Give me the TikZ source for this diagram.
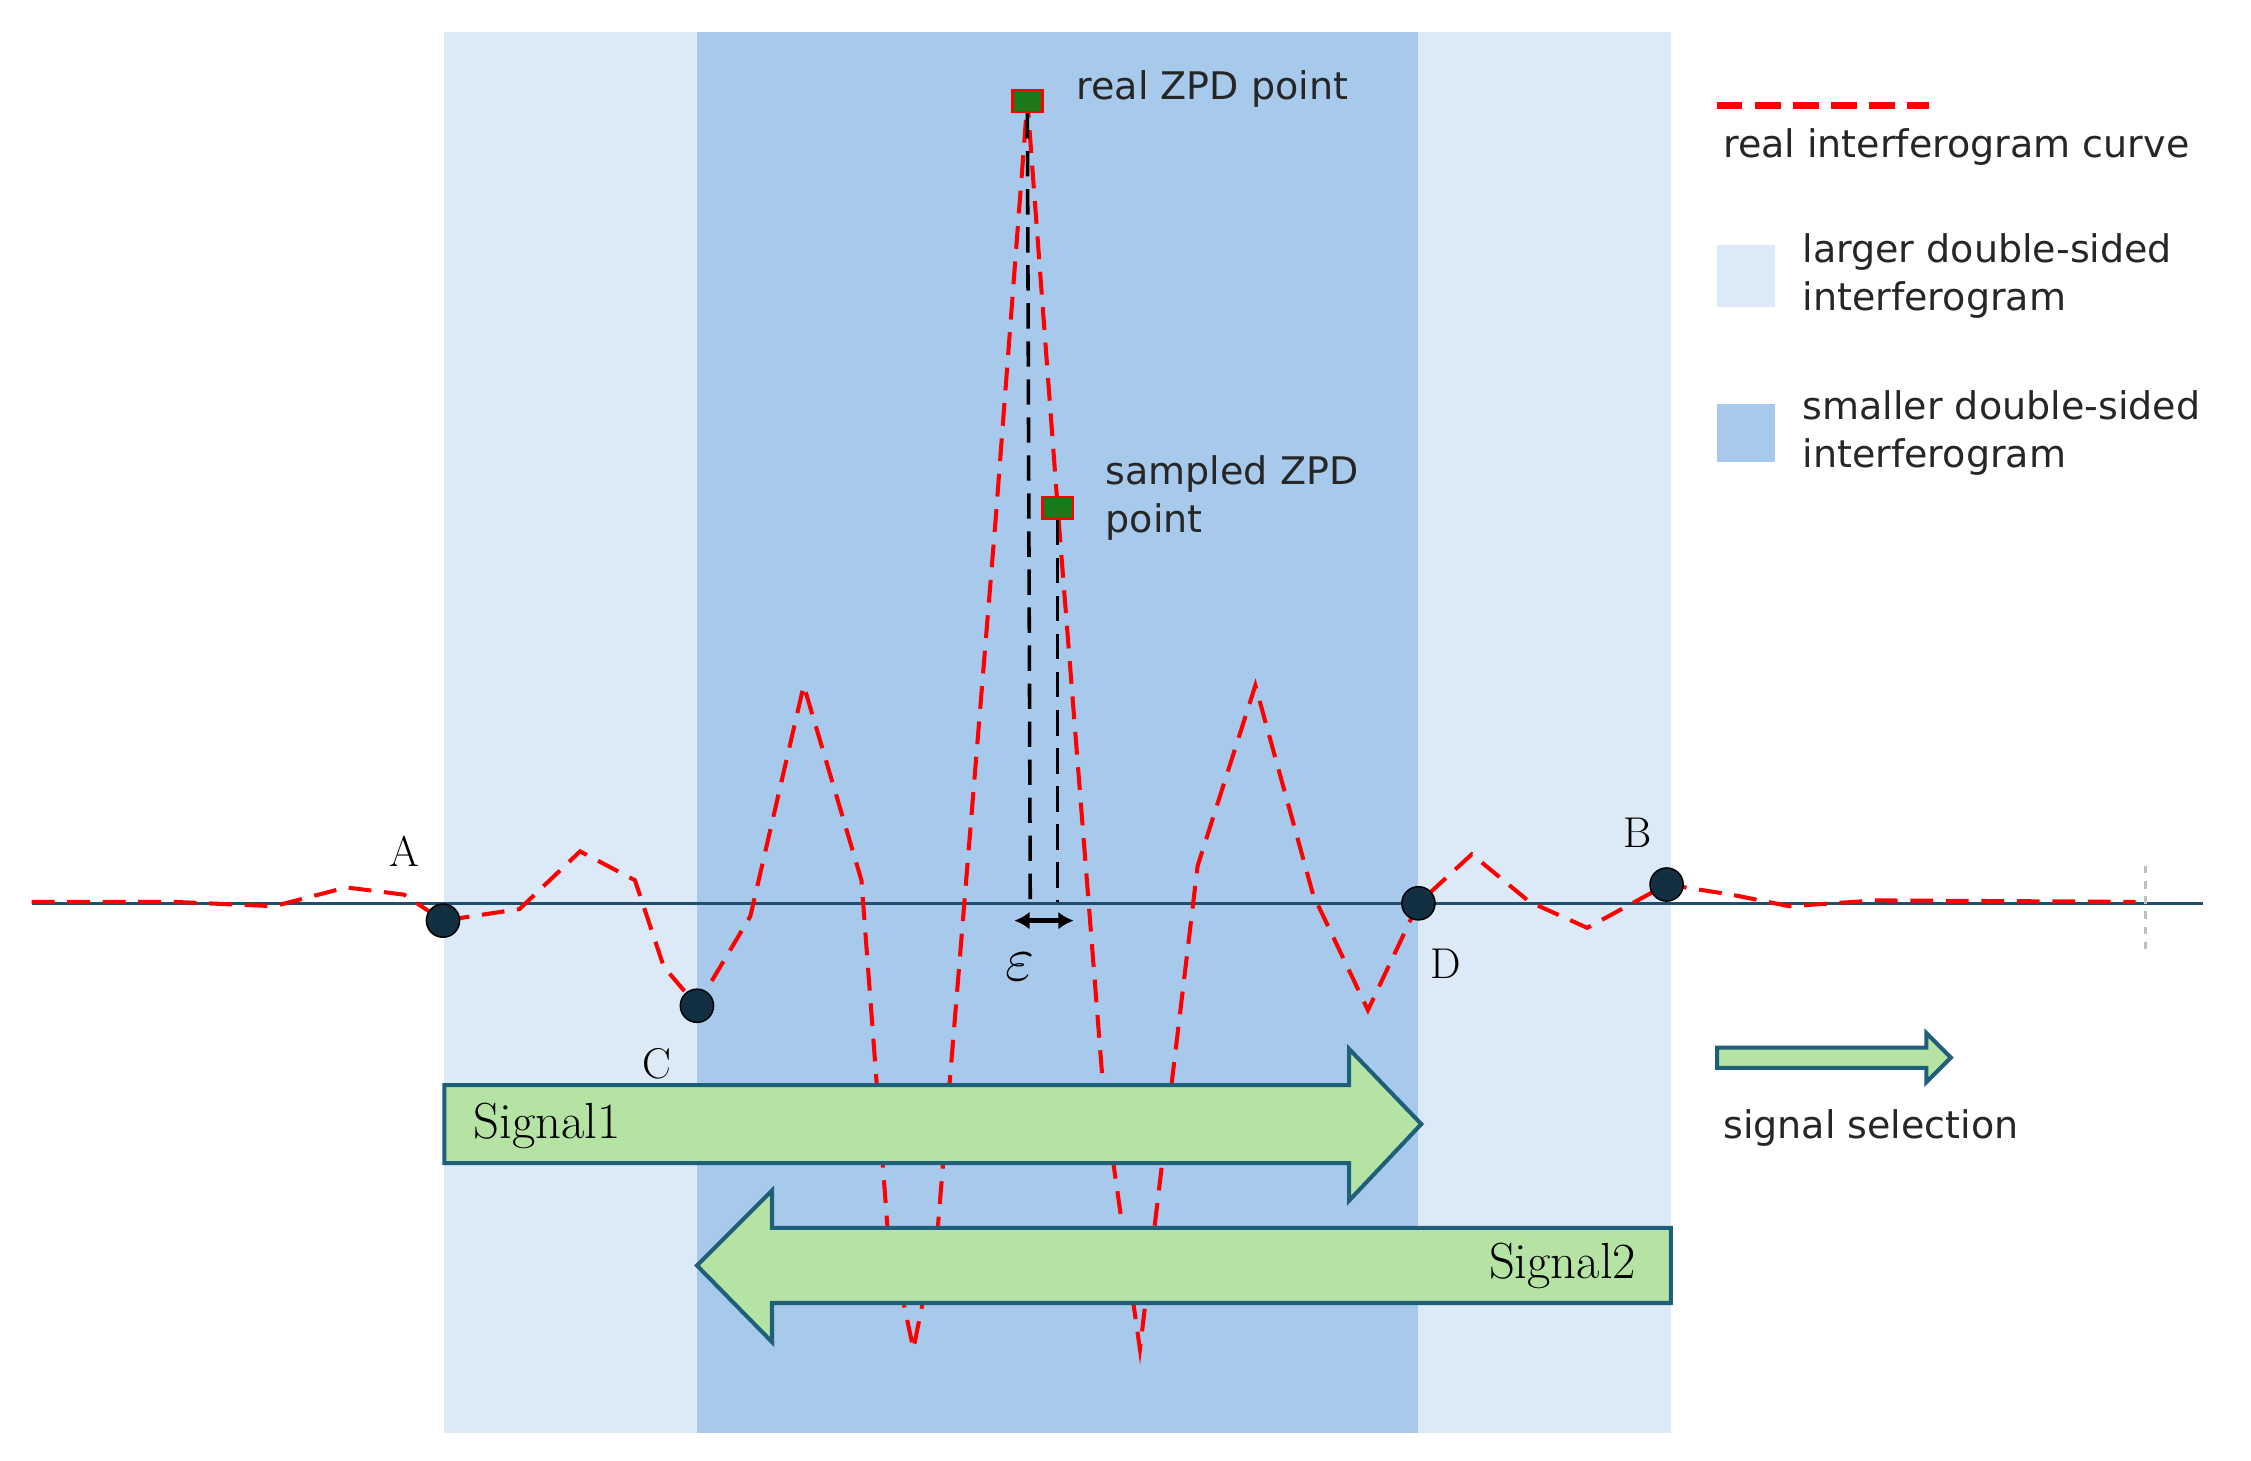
\documentclass[tikz,border=0pt]{standalone}
\usepackage{fontspec}
\setmainfont{Latin Modern Roman}
\newfontfamily\sansf{DejaVu Sans}
\usetikzlibrary{shapes.arrows,arrows.meta}
\definecolor{lightb}{HTML}{DCE9F6}
\definecolor{darkb}{HTML}{A7C9EB}
\definecolor{axisc}{HTML}{1F4E6E}
\definecolor{arrfill}{HTML}{B5E3A3}
\definecolor{arrline}{HTML}{1F5F7A}
\definecolor{zpd}{HTML}{1A7A1A}
\begin{document}
\begin{tikzpicture}[x=0.02cm,y=-0.02cm,
  sans/.style={font=\sansf\fontsize{15}{19}\selectfont,text=black!85},
  ptlabel/.style={font=\fontsize{17}{20}\selectfont},
  dot/.style={circle,fill=axisc!60!black,draw=black,line width=0.6pt,minimum size=0.46cm,inner sep=0},
  zpdbox/.style={rectangle,fill=zpd,draw=red,line width=1pt,minimum width=0.42cm,minimum height=0.3cm,inner sep=0},
  curve/.style={red,dashed,line width=1.6pt,dash pattern=on 9pt off 5pt},
  vdash/.style={black,line width=1.4pt,dash pattern=on 10pt off 5pt},
  sig/.style={fill=arrfill,draw=arrline,line width=1.6pt,line join=miter}]
\useasboundingbox (0,0) rectangle (1560,1012);
\fill[white] (0,0) rectangle (1560,1012);
\fill[lightb] (308,22) rectangle (1158,993);
\fill[darkb] (483,22) rectangle (983,993);
\draw[axisc,line width=1.4pt] (22,626) -- (1527,626);
\draw[gray!50,dashed,line width=1pt] (1487,600) -- (1487,660);
\draw[curve] (22,625) -- (120,625) -- (190,628) -- (240,615) -- (280,620) -- (307,638) -- (360,630) -- (402,590) -- (440,610) -- (460,670) -- (483,697) -- (520,635) -- (557,475) -- (597,610) -- (615,850) -- (633,935) -- (650,850) -- (690,360) -- (712,70) -- (733,352) -- (765,760) -- (790,935) -- (830,600) -- (870,475) -- (910,620) -- (948,700) -- (983,626) -- (1020,592) -- (1060,625) -- (1100,643) -- (1155,613) -- (1200,620) -- (1240,628) -- (1300,624) -- (1480,625);
% signal arrows
\draw[sig] (308,752) -- (935,752) -- (935,727) -- (985,779) -- (935,832) -- (935,806) -- (308,806) -- cycle;
\draw[sig] (1158,851) -- (535,851) -- (535,825) -- (483,877) -- (535,930) -- (535,903) -- (1158,903) -- cycle;
\node[font=\fontsize{20}{24}\selectfont,anchor=west] (s1) at (322,780) {Signal1};
\node[font=\fontsize{20}{24}\selectfont,anchor=east] (s2) at (1140,877) {Signal2};
% zpd
\node[zpdbox] (rz) at (712,70) {};
\node[zpdbox] (sz) at (733,352) {};
\coordinate (rzb) at (714,625);
\coordinate (szb) at (733,625);
\draw[vdash] (rz.south) -- (rzb);
\draw[vdash] (sz.south) -- (szb);
\coordinate (e1) at (703,638); \coordinate (e2) at (744,638);
\draw[{Latex[length=6pt,width=7pt]}-{Latex[length=6pt,width=7pt]},line width=2pt] (e1) -- (e2);
\node[font=\fontsize{26}{30}\selectfont] (eps) at (707,670) {$\varepsilon$};
\node[sans,anchor=west] (rzt) at (740,62) {real ZPD point};
\node[sans,anchor=west,align=left] (szt) at (760,345) {sampled ZPD\\point};
% dots
\node[dot] (A) at (307,638) {};
\node[dot] (C) at (483,697) {};
\node[dot] (D) at (983,626) {};
\node[dot] (B) at (1155,613) {};
\node[ptlabel] (la) at (280,590) {A};
\node[ptlabel] (lc) at (455,737) {C};
\node[ptlabel] (ld) at (1002,668) {D};
\node[ptlabel] (lb) at (1135,577) {B};
% legend
\coordinate (l1) at (1190,73); \coordinate (l2) at (1337,73);
\draw[red,line width=2.5pt,dash pattern=on 10pt off 5pt] (l1) -- (l2);
\node[sans,anchor=west] (lt1) at (1188,102) {real interferogram curve};
\fill[lightb] (1190,170) rectangle (1230,213);
\node[sans,anchor=west,align=left] (lt2) at (1243,191) {larger double-sided\\interferogram};
\fill[darkb] (1190,280) rectangle (1230,320);
\node[sans,anchor=west,align=left] (lt3) at (1243,300) {smaller double-sided\\interferogram};
\draw[sig] (1190,726) -- (1335,726) -- (1335,716) -- (1352,733) -- (1335,750) -- (1335,740) -- (1190,740) -- cycle;
\node[sans,anchor=west] (lt4) at (1188,782) {signal selection};
\end{tikzpicture}
\end{document}
